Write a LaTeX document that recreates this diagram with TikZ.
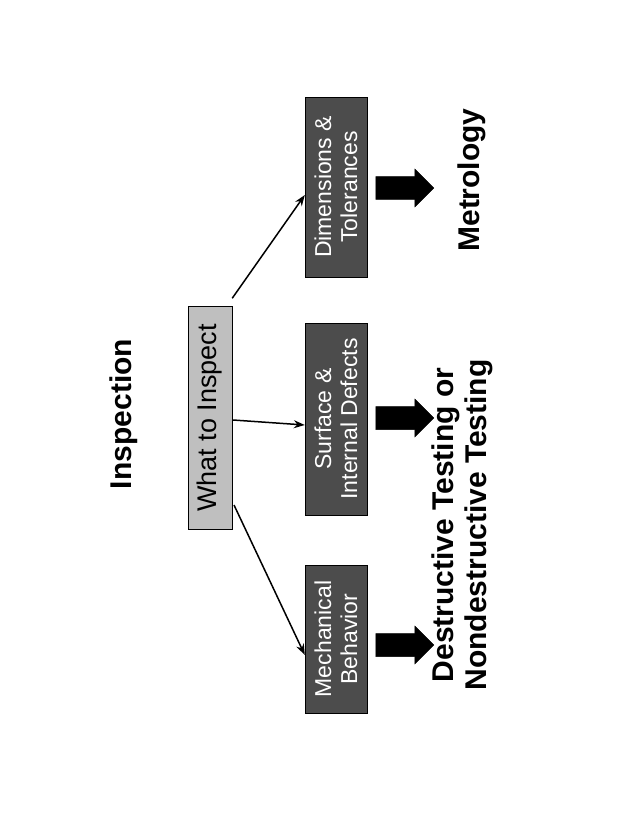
\documentclass[tikz,border=0pt]{standalone}
\usepackage{fontspec}
\setmainfont{Liberation Sans}
\usetikzlibrary{arrows.meta,shapes.arrows}
\begin{document}
\begin{tikzpicture}[x=1pt,y=-1pt,
  darkbox/.style={draw=black,fill=black!70,text=white,rotate=90,minimum height=62pt,align=center,font=\fontsize{23}{26}\selectfont,inner sep=1pt},
  fatarrow/.style={single arrow,draw=black,fill=black,minimum height=58pt,minimum width=38pt,single arrow head extend=4pt,inner sep=6pt},
  conn/.style={-{Stealth[length=11pt,width=8pt]},line width=1.5pt}]
\useasboundingbox[fill=white] (0,0) rectangle (638,826);
\node[rotate=90,font=\fontsize{30}{32}\selectfont\bfseries] (title) at (124,414) {Inspection};
\node[draw=black,fill=black!25,rotate=90,minimum width=223pt,minimum height=44pt,font=\fontsize{27}{28}\selectfont] (what) at (210,418) {What to Inspect};
\node[darkbox,minimum width=148pt] (mech) at (336,639) {Mechanical\\Behavior};
\node[darkbox,minimum width=192pt] (surf) at (336,419) {Surface \&\\Internal Defects};
\node[darkbox,minimum width=180pt] (dim) at (336,187) {Dimensions \&\\Tolerances};
\node[fatarrow] (a1) at (399,645) {};
\node[fatarrow] (a2) at (399,418) {};
\node[fatarrow] (a3) at (399,188) {};
\node[rotate=90,align=center,font=\fontsize{30}{33}\selectfont\bfseries] (dt) at (462,525) {Destructive Testing or\\Nondestructive Testing};
\node[rotate=90,font=\fontsize{30}{32}\selectfont\bfseries] (met) at (472,180) {Metrology};
\draw[conn] (what.south east) ++(0,-8) coordinate (s1) -- (dim.north west |- 0,195);
\draw[conn] (233,420) coordinate (s2) -- (surf.north |- 0,425);
\draw[conn] (234,505) coordinate (s3) -- (mech.north |- 0,655);
\end{tikzpicture}
\end{document}
